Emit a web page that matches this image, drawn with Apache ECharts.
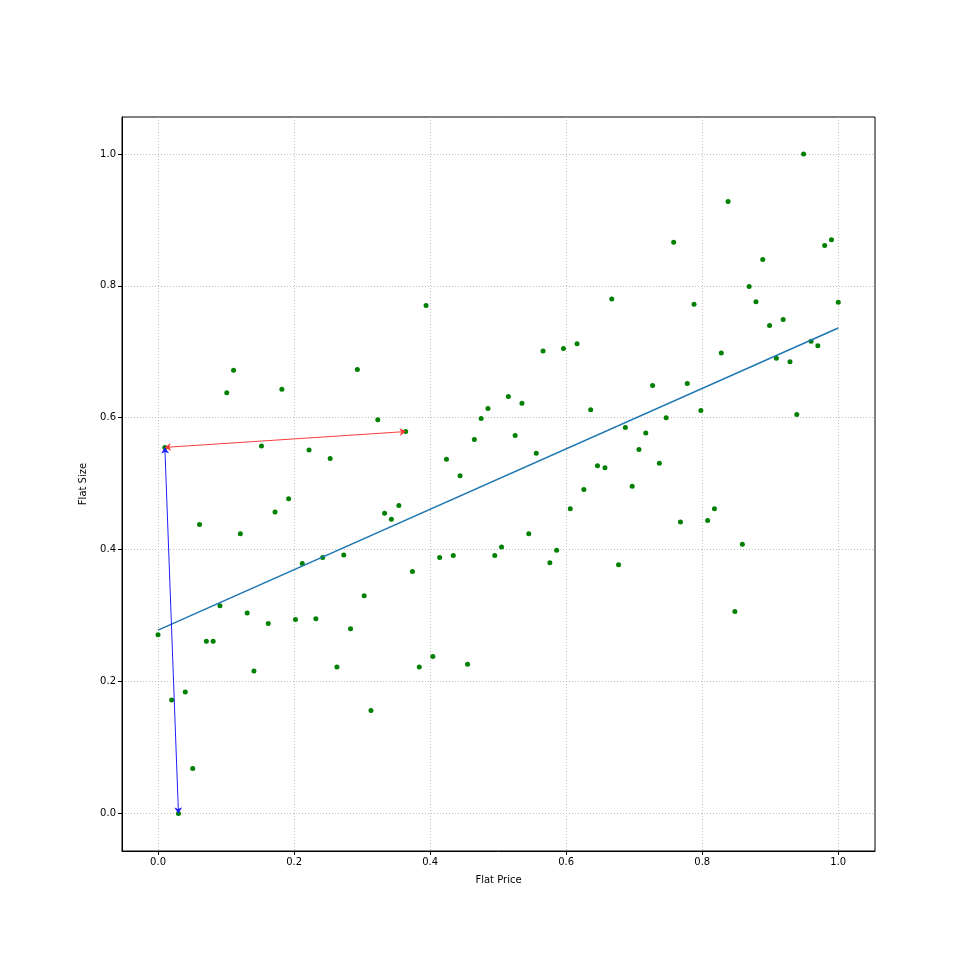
<!DOCTYPE html>
<html>
<head>
<meta charset="utf-8">
<script src="https://cdn.jsdelivr.net/npm/echarts@6/dist/echarts.min.js"></script>
<style>
  html, body { margin: 0; padding: 0; background: #fff; }
  #chart { width: 972px; height: 972px; }
</style>
</head>
<body>
<div id="chart"></div>
<script>
var flatPrice = [
  0.000, 0.010, 0.020, 0.030, 0.040, 0.051, 0.061, 0.071, 0.081, 0.091,
  0.101, 0.111, 0.121, 0.131, 0.141, 0.152, 0.162, 0.172, 0.182, 0.192,
  0.202, 0.212, 0.222, 0.232, 0.242, 0.253, 0.263, 0.273, 0.283, 0.293,
  0.303, 0.313, 0.323, 0.333, 0.343, 0.354, 0.364, 0.374, 0.384, 0.394,
  0.404, 0.414, 0.424, 0.434, 0.444, 0.455, 0.465, 0.475, 0.485, 0.495,
  0.505, 0.515, 0.525, 0.535, 0.545, 0.556, 0.566, 0.576, 0.586, 0.596,
  0.606, 0.616, 0.626, 0.636, 0.646, 0.657, 0.667, 0.677, 0.687, 0.697,
  0.707, 0.717, 0.727, 0.737, 0.747, 0.758, 0.768, 0.778, 0.788, 0.798,
  0.808, 0.818, 0.828, 0.838, 0.848, 0.859, 0.869, 0.879, 0.889, 0.899,
  0.909, 0.919, 0.929, 0.939, 0.949, 0.960, 0.970, 0.980, 0.990, 1.000
];
var flatSize = [
  0.271, 0.555, 0.172, 0.000, 0.184, 0.068, 0.438, 0.261, 0.261, 0.315,
  0.638, 0.672, 0.424, 0.304, 0.216, 0.557, 0.288, 0.457, 0.643, 0.477,
  0.294, 0.379, 0.551, 0.295, 0.388, 0.538, 0.222, 0.392, 0.280, 0.673,
  0.330, 0.156, 0.597, 0.455, 0.446, 0.467, 0.579, 0.367, 0.222, 0.770,
  0.238, 0.388, 0.537, 0.391, 0.512, 0.226, 0.567, 0.599, 0.614, 0.391,
  0.404, 0.632, 0.573, 0.622, 0.424, 0.546, 0.701, 0.380, 0.399, 0.705,
  0.462, 0.712, 0.491, 0.612, 0.527, 0.524, 0.780, 0.377, 0.585, 0.496,
  0.552, 0.577, 0.649, 0.531, 0.600, 0.866, 0.442, 0.652, 0.772, 0.611,
  0.444, 0.462, 0.698, 0.928, 0.306, 0.408, 0.799, 0.776, 0.840, 0.740,
  0.690, 0.749, 0.685, 0.605, 1.000, 0.716, 0.709, 0.861, 0.870, 0.775
];
// fitted line end points
var fitX = [0.0, 1.0];
var fitY = [0.278, 0.736];
// arrows drawn between two points (indices into the arrays above)
var redArrow = [1, 36];
var blueArrow = [1, 3];
var tickValues = [0.0, 0.2, 0.4, 0.6, 0.8, 1.0];

var font = 'DejaVu Sans';

function pt(i) {
  return [flatPrice[i], flatSize[i]];
}

function axis(name, gap, rotate, min, max) {
  return {
    type: 'value',
    min: min, max: max,
    name: name,
    nameLocation: 'middle',
    nameGap: gap,
    nameRotate: rotate,
    nameTextStyle: {color: '#000', fontFamily: font, fontSize: 10},
    axisLine: {show: true, onZero: false, lineStyle: {color: '#000', width: 1}},
    axisTick: {show: true, length: 4, customValues: tickValues,
      lineStyle: {color: '#000', width: 1}},
    axisLabel: {color: '#000', fontFamily: font, fontSize: 10, margin: 6,
      customValues: tickValues,
      formatter: function(v) { return v.toFixed(1); }},
    splitLine: {show: true, lineStyle: {color: '#b0b0b0', width: 0.8, type: [1, 2]}}
  };
}

var chart = echarts.init(document.getElementById('chart'), null, {renderer: 'canvas'});
chart.setOption({
  animation: false,
  backgroundColor: '#fff',
  grid: {left: 122, right: 97, top: 117, bottom: 121, show: true,
    borderColor: '#000', borderWidth: 1, backgroundColor: 'transparent'},
  xAxis: axis('Flat Price', 24, 0, -0.053, 1.054),
  yAxis: axis('Flat Size', 34, 90, -0.057, 1.056),
  series: [
    {
      type: 'scatter',
      symbol: 'circle',
      symbolSize: 5,
      itemStyle: {color: '#008000', opacity: 1},
      data: flatPrice.map(function(x, i) { return [x, flatSize[i]]; }),
      z: 2
    },
    {
      type: 'line',
      showSymbol: false,
      lineStyle: {color: '#1f77b4', width: 1.5},
      data: fitX.map(function(x, i) { return [x, fitY[i]]; }),
      z: 3
    },
    {
      type: 'lines',
      coordinateSystem: 'cartesian2d',
      symbol: ['arrow', 'arrow'],
      symbolSize: 6,
      data: [
        {coords: [pt(redArrow[0]), pt(redArrow[1])],
          lineStyle: {color: '#ff3b3b', width: 1, opacity: 1}},
        {coords: [pt(blueArrow[0]), pt(blueArrow[1])],
          lineStyle: {color: '#1f1fff', width: 1, opacity: 1}}
      ],
      z: 4
    }
  ]
});
</script>
</body>
</html>
